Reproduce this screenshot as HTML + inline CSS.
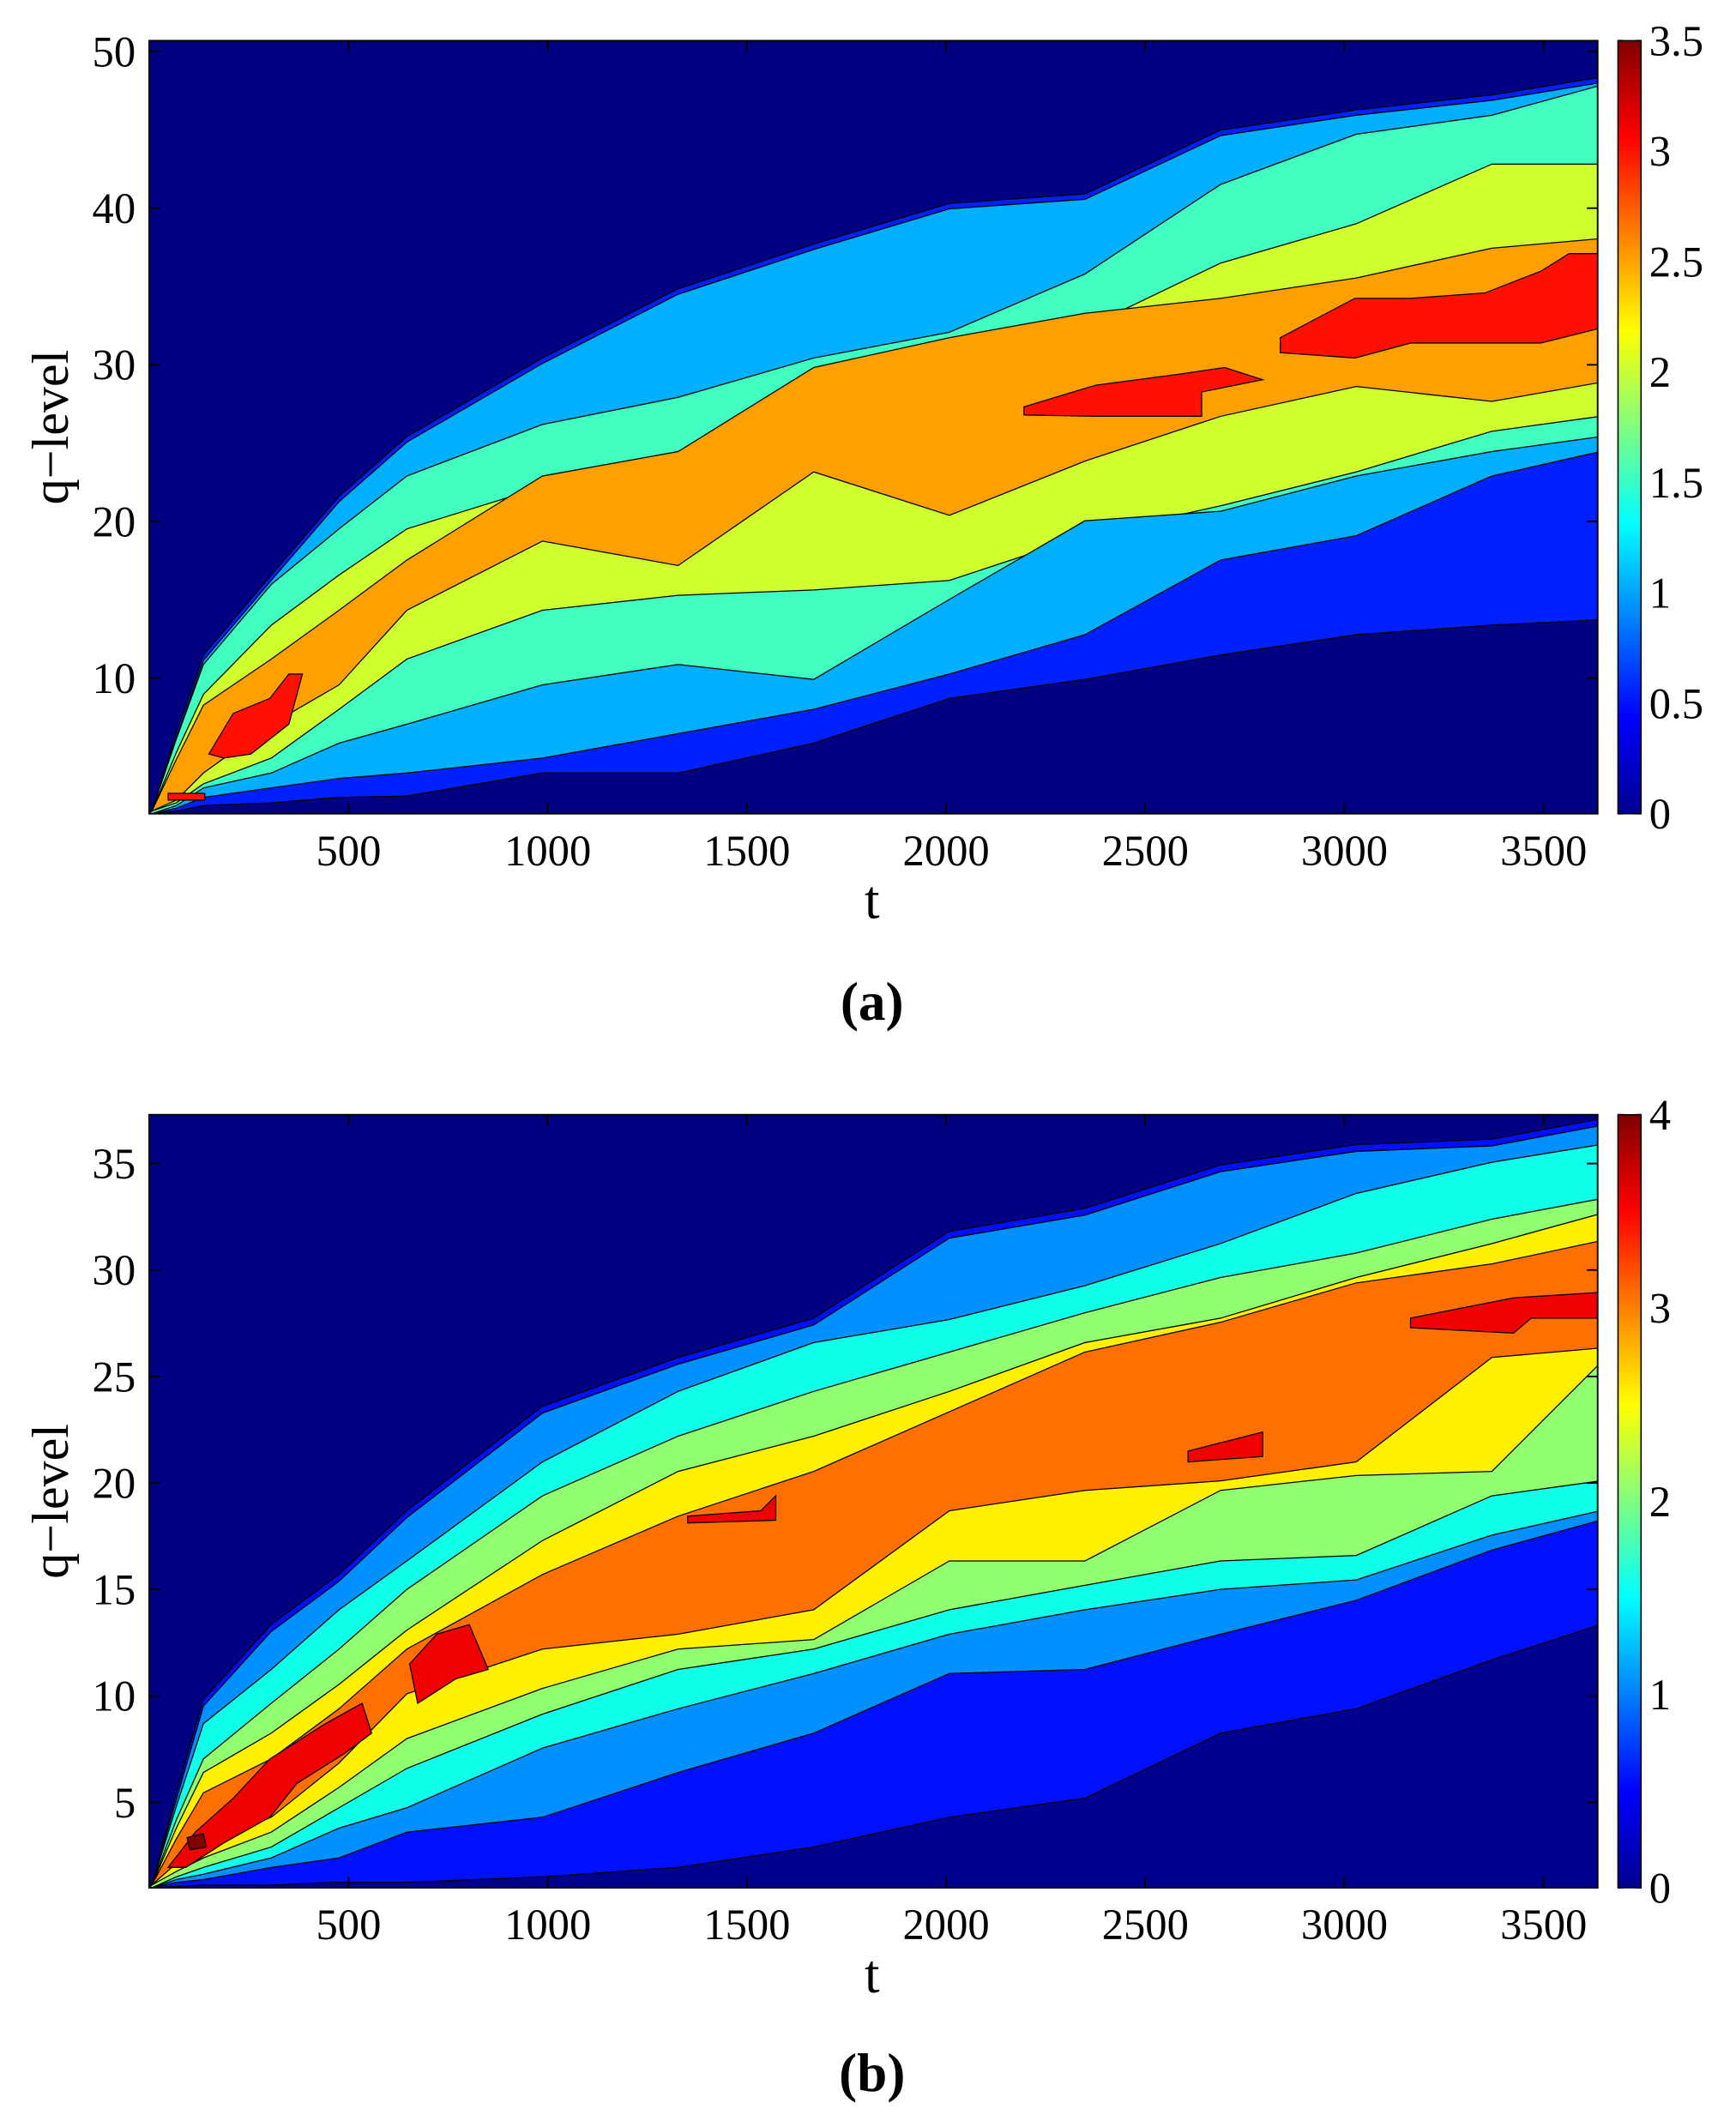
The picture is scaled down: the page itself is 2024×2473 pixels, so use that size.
<!DOCTYPE html>
<html><head><meta charset="utf-8"><style>html,body{margin:0;padding:0;background:#fff}svg{display:block}</style></head>
<body>
<svg id="s" xmlns="http://www.w3.org/2000/svg" width="2024" height="2473" viewBox="0 0 1280 1564" preserveAspectRatio="none" font-family="'Liberation Serif',serif">
<defs>
<linearGradient id="jet" x1="0" y1="1" x2="0" y2="0">
<stop offset="0" stop-color="#00008F"/><stop offset="0.125" stop-color="#0000FF"/><stop offset="0.375" stop-color="#00FFFF"/><stop offset="0.625" stop-color="#FFFF00"/><stop offset="0.875" stop-color="#FF0000"/><stop offset="1" stop-color="#800000"/>
</linearGradient>
<clipPath id="ca"><rect x="110" y="30" width="1068" height="570"/></clipPath>
<clipPath id="cb"><rect x="110" y="822" width="1068" height="570"/></clipPath>
</defs>
<g id="ga" clip-path="url(#ca)"></g>
<g id="gb" clip-path="url(#cb)"></g>
<g id="ax" fill="none" stroke="#000" stroke-width="1.2"></g>
<g id="tx" font-size="32" fill="#000"></g>
<rect x="1193" y="30" width="17" height="570" fill="url(#jet)" stroke="#000" stroke-width="1"/>
<rect x="1193" y="822" width="17" height="570" fill="url(#jet)" stroke="#000" stroke-width="1"/>
<text x="643" y="677" font-size="40" text-anchor="middle">t</text>
<text x="643" y="1469" font-size="40" text-anchor="middle">t</text>
<text transform="translate(50,315) rotate(-90)" font-size="38" text-anchor="middle">q−level</text>
<text transform="translate(50,1107) rotate(-90)" font-size="38" text-anchor="middle">q−level</text>
<text x="643" y="752" font-size="40" font-weight="bold" text-anchor="middle">(a)</text>
<text x="643" y="1542" font-size="40" font-weight="bold" text-anchor="middle">(b)</text>
</svg>
<script>
var NS="http://www.w3.org/2000/svg";
var X=[112,130,150,200,250,300,400,500,600,700,800,900,1000,1100,1180];
function band(g,col,ys,off){var p=[];for(var i=0;i<X.length;i++){p.push(X[i]+","+(ys[i]+off));}p.push("1180,"+(600+off));p.push("110,"+(600+off));poly(g,col,p.join(" "));}
function poly(g,col,pts){var e=document.createElementNS(NS,"polygon");e.setAttribute("points",pts);e.setAttribute("fill",col);e.setAttribute("stroke","#000");e.setAttribute("stroke-width","0.8");g.appendChild(e);}
function pp(a,off){var r=[];for(var i=0;i<a.length;i+=2)r.push(a[i]+","+(a[i+1]+off));return r.join(" ");}
var ga=document.getElementById("ga"),gb=document.getElementById("gb");
function bg(g,off){var e=document.createElementNS(NS,"rect");e.setAttribute("x",110);e.setAttribute("y",30+off);e.setAttribute("width",1070);e.setAttribute("height",570);e.setAttribute("fill","#000080");g.appendChild(e);}
bg(ga,0);
var A=[["#0020FF",[598,540,483,424,366,322,264,213,180,150,143,96,81,70,57]],
["#00B0FF",[598,544,487,428,370,326,268,217,184,154,147,100,85,74,61]],
["#40FFC0",[598,545,490,431,390,351,313,293,264,245,202,136,99,85,63]],
["#D0FF30",[598,555,512,461,424,390,359,333,285,267,242,194,165,121,121]],
["#FFA000",[598,560,520,486,450,413,351,333,271,249,231,220,205,183,176]],
["#D0FF30",[598,590,570,534,505,450,399,417,348,380,340,307,285,296,282]],
["#40FFC0",[598,592,578,559,523,486,450,439,435,428,395,373,348,318,307]],
["#00B0FF",[600,594,581,570,548,534,505,490,501,442,384,377,351,333,322]],
["#0020FF",[600,596,588,581,574,570,559,541,523,497,468,413,395,351,333]],
["#000080",[600,598,594,592,588,587,570,570,548,515,501,483,468,461,457]]];
A.forEach(function(b){band(ga,b[0],b[1],0);});
poly(ga,"#FF1000",pp([154,556,172,526,199,515,213,497,223,497,213,534,185,556,165,559],0));
poly(ga,"#FF1000",pp([124,585,151,585,151,590,124,590],0));
poly(ga,"#FF1000",pp([944,249,999,220,1040,220,1095,216,1136,200,1157,187,1180,187,1180,242,1136,253,1040,253,999,264,944,260],0));
poly(ga,"#FF1000",pp([755,300,808,284,869,276,903,271,931,280,886,289,886,307,808,307,755,306],0));
bg(gb,792);
var B=[["#0010FF",[598,530,461,406,369,322,245,209,180,116,99,67,52,48,33]],
["#0090FF",[598,535,466,411,374,327,250,214,185,121,104,72,57,53,38]],
["#10FFE8",[598,540,479,439,395,359,286,234,198,181,156,125,88,65,52]],
["#90FF70",[598,550,505,464,424,380,311,267,234,205,176,150,132,107,92]],
["#FFF000",[598,556,515,486,450,410,344,293,267,234,198,180,150,125,103]],
["#FF7000",[598,564,530,505,468,424,369,326,293,249,205,183,154,140,123]],
["#FFF000",[598,582,567,548,508,457,424,413,395,322,307,300,286,209,202]],
["#90FF70",[598,588,578,559,526,490,453,424,417,359,359,307,296,293,213]],
["#10FFE8",[600,592,585,570,541,512,472,439,424,395,377,359,355,311,300]],
["#0090FF",[600,594,590,578,556,541,497,468,442,413,395,380,373,340,322]],
["#0010FF",[600,596,594,585,578,559,548,515,486,442,439,413,388,351,329]],
["#00008F",[600,599,598,598,596,596,592,585,570,548,534,486,468,432,406]]];
B.forEach(function(b){band(gb,b[0],b[1],792);});
poly(gb,"#F00000",pp([124,585,144,559,172,534,199,505,240,479,267,464,274,486,254,501,219,523,199,548,165,567,137,585],792));
poly(gb,"#F00000",pp([302,435,322,413,346,406,360,439,336,446,308,464],792));
poly(gb,"#F00000",pp([1040,180,1116,165,1180,161,1180,180,1129,180,1116,191,1040,187],792));
poly(gb,"#F00000",pp([876,278,931,264,931,282,876,286],792));
poly(gb,"#F00000",pp([507,326,561,322,572,311,572,329,507,331],792));
poly(gb,"#800000",pp([138,563,150,560,152,570,140,572],792));
var ax=document.getElementById("ax"),tx=document.getElementById("tx");
function L(x1,y1,x2,y2){var e=document.createElementNS(NS,"line");e.setAttribute("x1",x1);e.setAttribute("y1",y1);e.setAttribute("x2",x2);e.setAttribute("y2",y2);ax.appendChild(e);}
function T(x,y,s,a){var e=document.createElementNS(NS,"text");e.setAttribute("x",x);e.setAttribute("y",y);e.setAttribute("text-anchor",a);e.textContent=s;tx.appendChild(e);}
[0,792].forEach(function(o){var r=document.createElementNS(NS,"rect");r.setAttribute("x",110);r.setAttribute("y",30+o);r.setAttribute("width",1068);r.setAttribute("height",570);ax.appendChild(r);
for(var t=500;t<=3500;t+=500){var x=110.2+0.2937*t;L(x,600+o,x,592+o);L(x,30+o,x,38+o);T(x,638+o,""+t,"middle");}});
for(var q=10;q<=50;q+=10){var y=500-(q-10)*11.55;L(110,y,118,y);L(1178,y,1170,y);T(100,y+11,""+q,"end");}
for(var q=5;q<=35;q+=5){var y=1329-(q-5)*15.7;L(110,y,118,y);L(1178,y,1170,y);T(100,y+11,""+q,"end");}
["0","0.5","1","1.5","2","2.5","3","3.5"].forEach(function(s,i){var y=600-i*81.43;L(1193,y,1197,y);L(1210,y,1206,y);T(1216,y+11,s,"start");});
["0","1","2","3","4"].forEach(function(s,i){var y=1392-i*142.5;L(1193,y,1197,y);L(1210,y,1206,y);T(1216,y+11,s,"start");});
</script>
</body></html>
